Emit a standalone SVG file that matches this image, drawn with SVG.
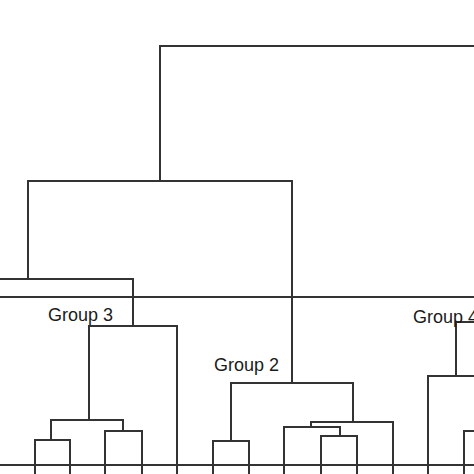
<svg xmlns="http://www.w3.org/2000/svg" width="474" height="474" viewBox="0 0 474 474">
<style>
.ln{fill:none;stroke:#333;stroke-width:2;stroke-linecap:butt;stroke-linejoin:miter}
.lbl{font-family:"Liberation Sans",Arial,sans-serif;font-size:18px;fill:#1a1a1a}
</style>
<rect width="474" height="474" fill="#fff"/>
<g id="connectors">
<path class="ln" d="M0,297H474 M0,465H474"/>
<path class="ln" d="M160,181V46H474"/>
<path class="ln" d="M28,279V181H292V383"/>
<path class="ln" d="M0,279H133V326"/>
<path class="ln" d="M89,420V326H177V474"/>
<path class="ln" d="M51,440V420H123V431"/>
<path class="ln" d="M35,474V440H70V474"/>
<path class="ln" d="M105,474V431H142V474"/>
<path class="ln" d="M231,441V383H353V422"/>
<path class="ln" d="M213,474V441H249V474"/>
<path class="ln" d="M311,427V422H393V474"/>
<path class="ln" d="M284,474V427H340V436"/>
<path class="ln" d="M321,474V436H357V474"/>
<path class="ln" d="M474,322H456V376"/>
<path class="ln" d="M474,376H428V474"/>
<path class="ln" d="M474,431H464V474"/>
</g>
<g id="group3"><text class="lbl" x="48" y="321">Group 3</text></g>
<g id="group2"><text class="lbl" x="214" y="371">Group 2</text></g>
<g id="group4"><text class="lbl" x="413" y="323">Group 4</text></g>
</svg>
